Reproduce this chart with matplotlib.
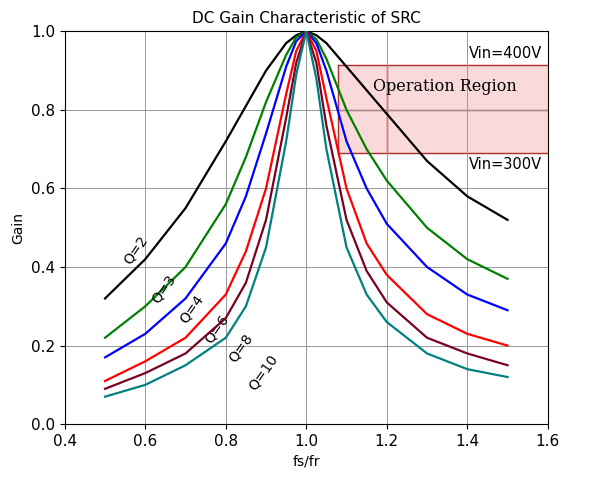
import matplotlib.pyplot as plt

fs = [0.5, 0.6, 0.7, 0.8, 0.85, 0.9, 0.95, 0.975, 1.0, 1.025, 1.05, 1.1, 1.15, 1.2, 1.3, 1.4, 1.5]
gain_q2 = [0.32, 0.42, 0.55, 0.72, 0.81, 0.90, 0.97, 0.99, 1.0, 0.99, 0.97, 0.91, 0.85, 0.79, 0.67, 0.58, 0.52]
gain_q3 = [0.22, 0.30, 0.40, 0.56, 0.68, 0.82, 0.94, 0.985, 1.0, 0.98, 0.93, 0.80, 0.70, 0.62, 0.50, 0.42, 0.37]
gain_q4 = [0.17, 0.23, 0.32, 0.46, 0.58, 0.74, 0.91, 0.975, 1.0, 0.97, 0.90, 0.72, 0.60, 0.51, 0.40, 0.33, 0.29]
gain_q6 = [0.11, 0.16, 0.22, 0.33, 0.44, 0.60, 0.84, 0.95, 1.0, 0.95, 0.83, 0.60, 0.46, 0.38, 0.28, 0.23, 0.20]
gain_q8 = [0.09, 0.13, 0.18, 0.27, 0.36, 0.52, 0.78, 0.92, 1.0, 0.92, 0.76, 0.52, 0.39, 0.31, 0.22, 0.18, 0.15]
gain_q10 = [0.07, 0.10, 0.15, 0.22, 0.30, 0.45, 0.72, 0.89, 1.0, 0.88, 0.70, 0.45, 0.33, 0.26, 0.18, 0.14, 0.12]

curves = [("Q=2", gain_q2, "black", (0.54, 0.40)),
          ("Q=3", gain_q3, "green", (0.61, 0.30)),
          ("Q=4", gain_q4, "blue", (0.68, 0.25)),
          ("Q=6", gain_q6, "red", (0.74, 0.20)),
          ("Q=8", gain_q8, "#7a0020", (0.80, 0.15)),
          ("Q=10", gain_q10, "#008080", (0.85, 0.08))]

fig, ax = plt.subplots(figsize=(5.89, 4.82), dpi=100)
fig.subplots_adjust(left=0.11, right=0.93, top=0.935, bottom=0.12)

# operation region
ax.axhspan(0.69, 0.915, xmin=(1.08 - 0.4) / 1.2, xmax=1.0, color="#f8d0d0", alpha=0.8, zorder=0)
for y in [0.69, 0.8, 0.915]:
    ax.plot([1.08, 1.6], [y, y], color="#b03030", lw=1, zorder=1)
ax.plot([1.08, 1.08], [0.69, 0.915], color="#b03030", lw=1, zorder=1)
ax.plot([1.2, 1.2], [0.69, 0.915], color="#b03030", lw=1, zorder=1)

for name, g, c, pos in curves:
    ax.plot(fs, g, color=c, lw=1.6, zorder=3)
    ax.text(pos[0], pos[1], name, rotation=55, fontsize=10, ha="left", va="bottom")

ax.text(1.585, 0.925, "Vin=400V", ha="right", va="bottom", fontsize=10.5)
ax.text(1.585, 0.68, "Vin=300V", ha="right", va="top", fontsize=10.5)
ax.text(1.345, 0.86, "Operation Region", ha="center", va="center", fontsize=11.5, family="serif")

ax.set_xlim(0.4, 1.6)
ax.set_ylim(0, 1.0)
ax.set_xticks([0.4, 0.6, 0.8, 1.0, 1.2, 1.4, 1.6])
ax.set_yticks([0.0, 0.2, 0.4, 0.6, 0.8, 1.0])
ax.grid(True, color="#999999", lw=0.7)
ax.set_xlabel("fs/fr")
ax.set_ylabel("Gain")
ax.set_title("DC Gain Characteristic of SRC", fontsize=11)
ax.tick_params(labelsize=11)

plt.savefig("out.png")
